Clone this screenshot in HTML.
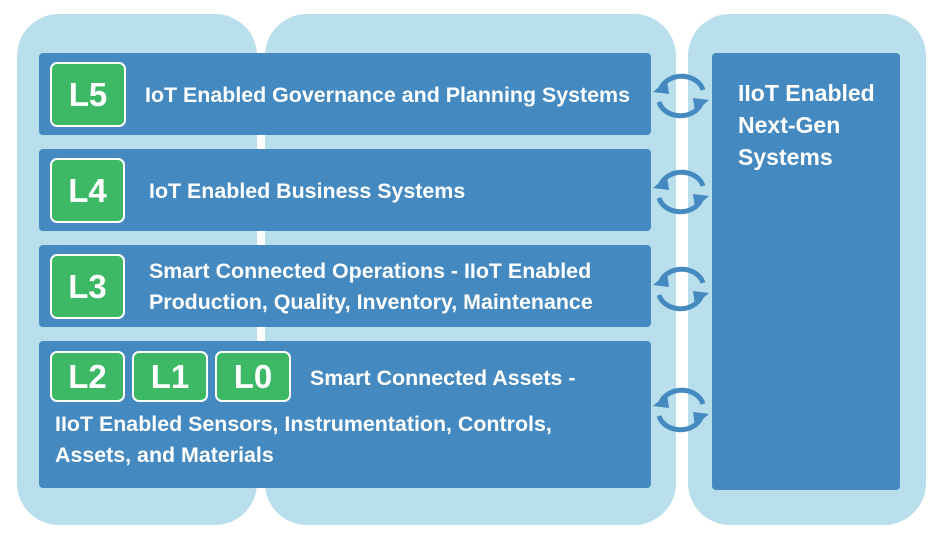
<!DOCTYPE html>
<html><head><style>
body{margin:0;width:948px;height:535px;background:#fff;position:relative;overflow:hidden;font-family:"Liberation Sans",sans-serif;font-weight:bold;color:#fff}
.p{position:absolute;background:#b9dfec;border-radius:42px}
.bar{position:absolute;left:39px;width:612px;background:#4489bf;border-radius:4px}
.b{position:absolute;background:#3db864;border:2.5px solid #fff;border-radius:7px;box-sizing:border-box;font-size:33px;display:flex;align-items:center;justify-content:center}
.t{position:absolute;font-size:21.4px;line-height:31px;white-space:nowrap}
</style></head><body>
<div class="p" style="left:17px;top:14px;width:240px;height:511px"></div>
<div class="p" style="left:265px;top:14px;width:411px;height:511px"></div>
<div class="p" style="left:688px;top:14px;width:238px;height:511px"></div>
<div class="bar" style="top:53px;height:82px"></div>
<div class="bar" style="top:149px;height:82px"></div>
<div class="bar" style="top:245px;height:82px"></div>
<div class="bar" style="top:341px;height:147px"></div>
<div style="position:absolute;left:712px;top:53px;width:188px;height:437px;background:#4489bf;border-radius:4px"></div>
<div class="b" style="left:50px;top:62px;width:76px;height:65px">L5</div>
<div class="b" style="left:50px;top:158px;width:75px;height:65px">L4</div>
<div class="b" style="left:50px;top:254px;width:75px;height:65px">L3</div>
<div class="b" style="left:50px;top:351px;width:75px;height:51px">L2</div>
<div class="b" style="left:132px;top:351px;width:76px;height:51px">L1</div>
<div class="b" style="left:215px;top:351px;width:76px;height:51px">L0</div>
<div class="t" style="left:145px;top:80px">IoT Enabled Governance and Planning Systems</div>
<div class="t" style="left:149px;top:176px">IoT Enabled Business Systems</div>
<div class="t" style="left:149px;top:256px">Smart Connected Operations - IIoT Enabled<br>Production, Quality, Inventory, Maintenance</div>
<div class="t" style="left:310px;top:363px">Smart Connected Assets -</div>
<div class="t" style="left:55px;top:409px">IIoT Enabled Sensors, Instrumentation, Controls,<br>Assets, and Materials</div>
<div class="t" style="left:738px;top:77px;font-size:23px;line-height:32px">IIoT Enabled<br>Next-Gen<br>Systems</div>
<svg width="948" height="535" style="position:absolute;left:0;top:0">
<defs><g id="c" fill="none" stroke="#4489bf" stroke-width="5">
<path d="M-20,-8 A22,18 0 0 1 22,-6"/><path d="M20,8 A22,18 0 0 1 -22,6"/>
<polygon points="-28,-4 -14,-16 -12,-2" fill="#4489bf" stroke="none"/>
<polygon points="28,4 14,16 12,2" fill="#4489bf" stroke="none"/></g></defs>
<use href="#c" x="681" y="96"/><use href="#c" x="681" y="192"/><use href="#c" x="681" y="289"/><use href="#c" x="681" y="410"/>
</svg>
</body></html>
